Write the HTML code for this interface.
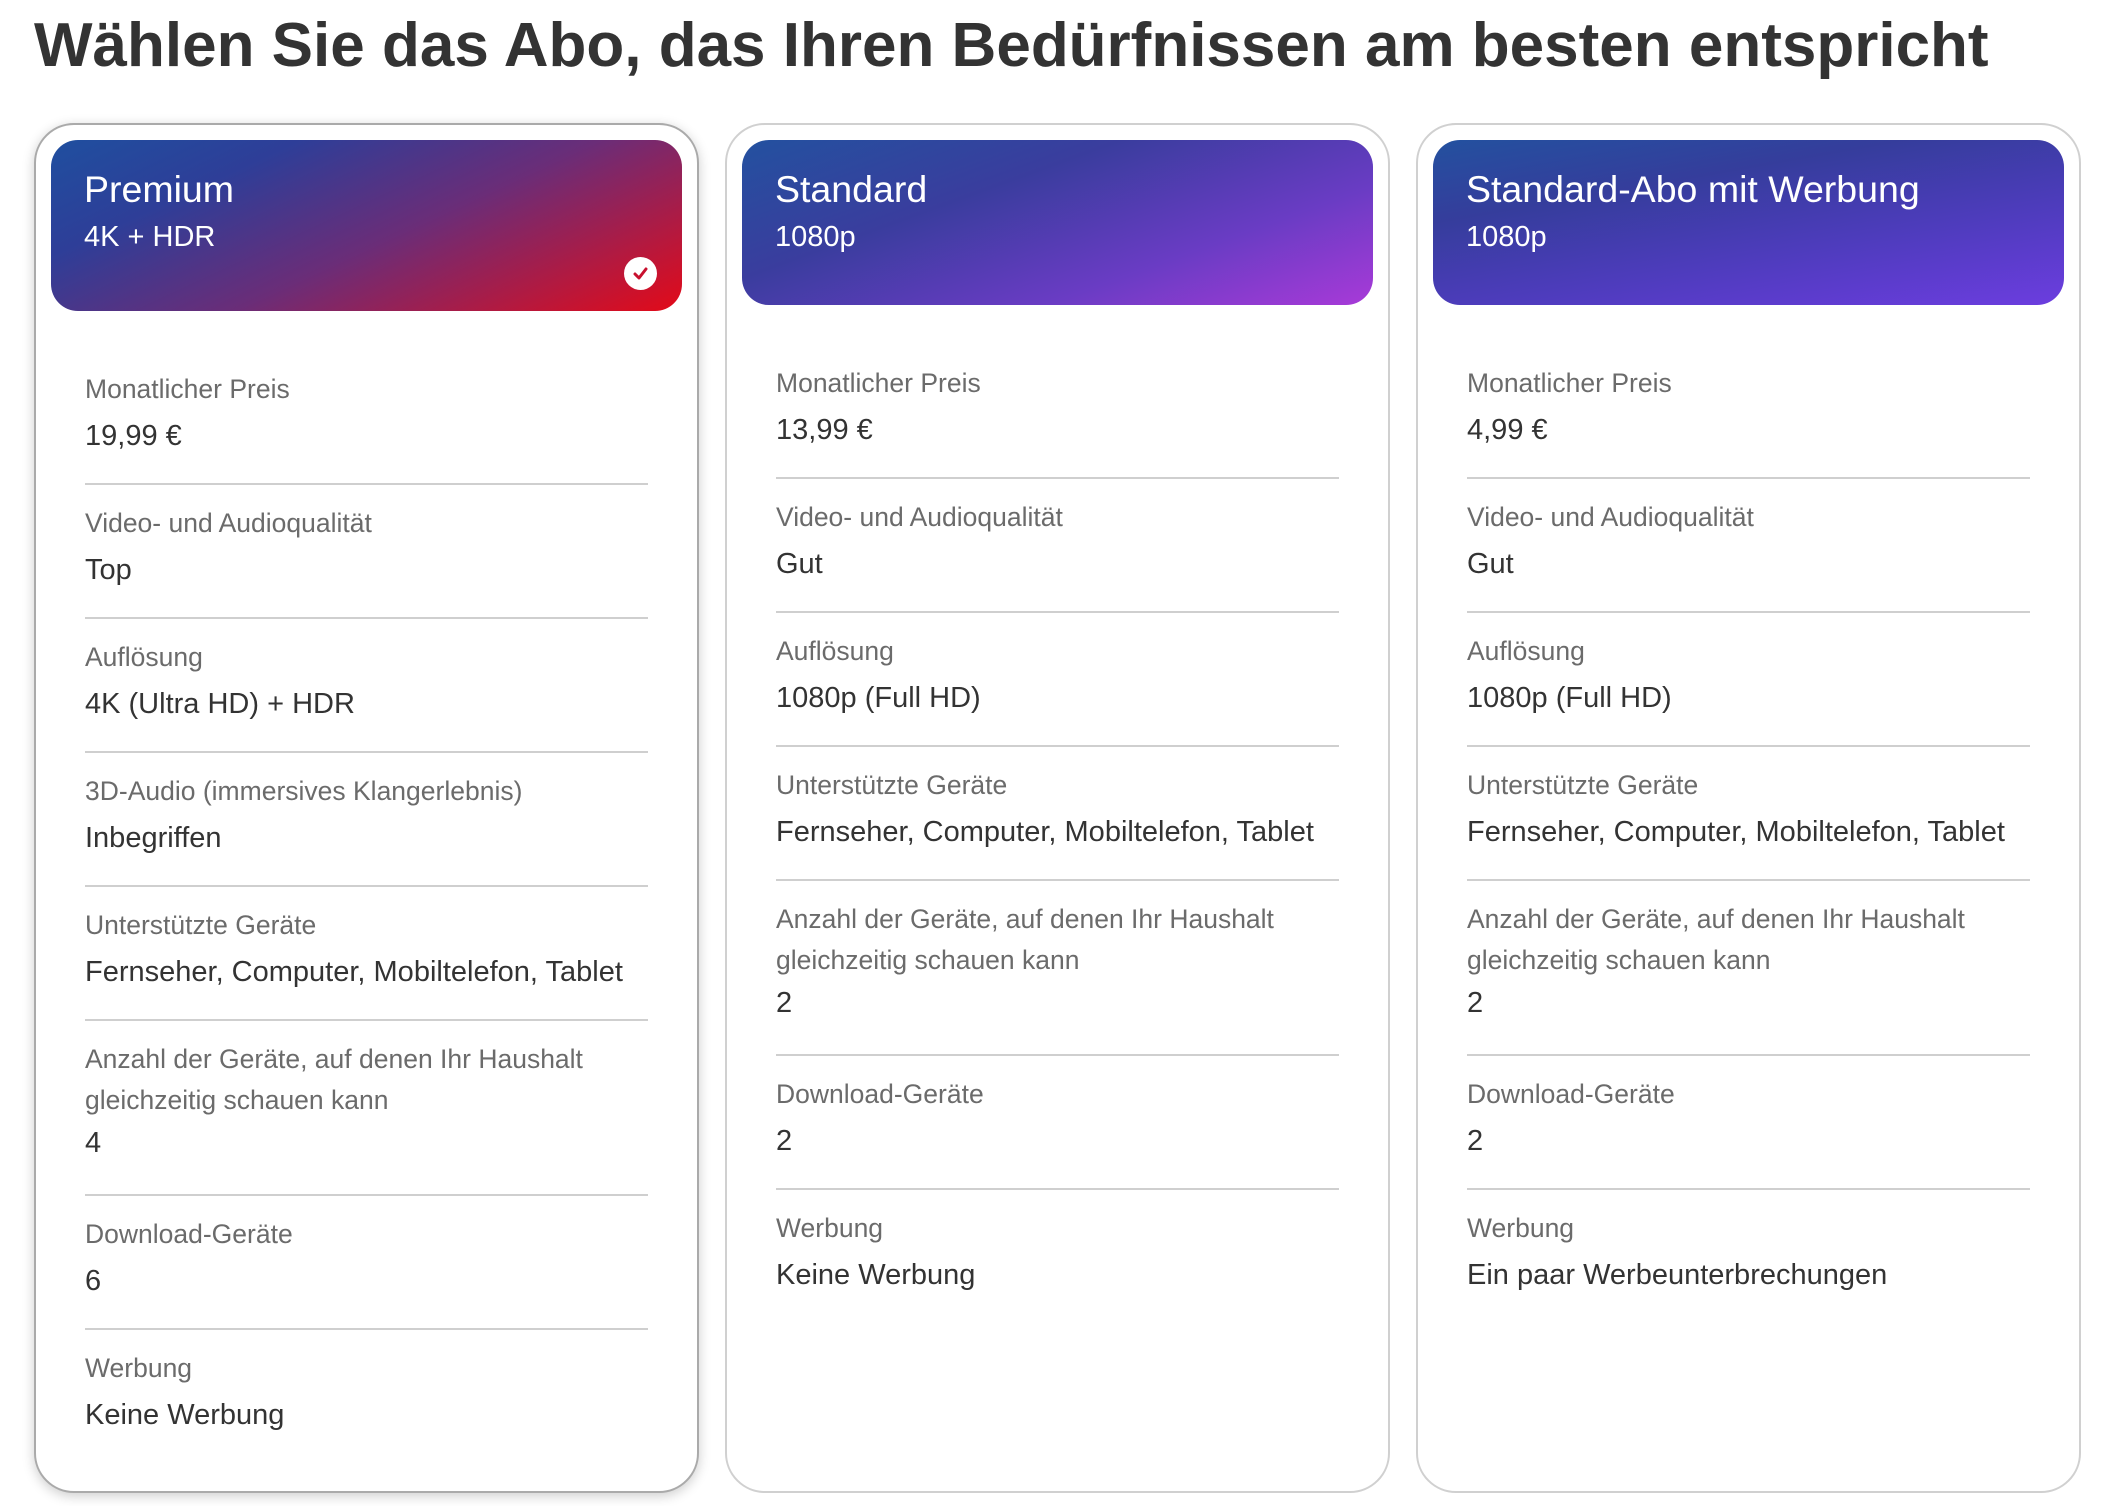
<!DOCTYPE html>
<html><head><meta charset="utf-8">
<style>
*{margin:0;padding:0;box-sizing:border-box}
html,body{width:2120px;height:1506px;overflow:hidden;background:#fff;font-family:"Liberation Sans",Arial,sans-serif}
h1{position:absolute;left:34px;top:6px;font-size:62px;font-weight:700;color:#333;white-space:nowrap;line-height:80px}
.card{position:absolute;top:123px;width:665px;height:1370px;border:2px solid #d0d0d0;border-radius:40px;background:#fff}
.card.sel{border-color:#aaa;box-shadow:0 3px 12px rgba(0,0,0,0.2)}
.hd{position:absolute;left:15px;right:15px;top:15px;height:165px;border-radius:27px;color:#fff}
.hd .t{position:absolute;left:33px;top:29px;font-size:37.5px;line-height:40px}
.hd .s{position:absolute;left:33px;top:81px;font-size:29px;line-height:32px}
.chk{position:absolute;top:117px;width:33px;height:33px;border-radius:50%;background:#fff}
.rows{position:absolute;left:49px;width:563px;top:220px}
.row{padding:18px 0 21px;border-bottom:2px solid #cfcfcf}
.row:last-child{border-bottom:none}
.l{font-size:26.5px;line-height:41px;color:#6b6b6b}
.v{font-size:29px;line-height:52px;color:#333}
</style></head><body>
<h1>Wählen Sie das Abo, das Ihren Bedürfnissen am besten entspricht</h1>

<div class="card sel" style="left:34px">
 <div class="hd" style="height:171px;background:linear-gradient(155deg,#1f4f9f 0%,#2e3e98 25%,#6a2d78 55%,#b4193f 82%,#e30a18 100%)">
  <div class="t">Premium</div><div class="s">4K + HDR</div>
  <div class="chk" style="left:573px"><svg width="33" height="33" viewBox="0 0 33 33"><path d="M11 17 l4 4 l7 -9" stroke="#c8102e" stroke-width="3" fill="none" stroke-linecap="round" stroke-linejoin="round"/></svg></div>
 </div>
 <div class="rows" style="top:226px">
  <div class="row"><div class="l">Monatlicher Preis</div><div class="v">19,99 €</div></div>
  <div class="row"><div class="l">Video- und Audioqualität</div><div class="v">Top</div></div>
  <div class="row"><div class="l">Auflösung</div><div class="v">4K (Ultra HD) + HDR</div></div>
  <div class="row"><div class="l">3D-Audio (immersives Klangerlebnis)</div><div class="v">Inbegriffen</div></div>
  <div class="row"><div class="l">Unterstützte Geräte</div><div class="v">Fernseher, Computer, Mobiltelefon, Tablet</div></div>
  <div class="row"><div class="l">Anzahl der Geräte, auf denen Ihr Haushalt gleichzeitig schauen kann</div><div class="v" style="line-height:44px;margin-bottom:8px">4</div></div>
  <div class="row"><div class="l">Download-Geräte</div><div class="v">6</div></div>
  <div class="row"><div class="l">Werbung</div><div class="v">Keine Werbung</div></div>
 </div>
</div>

<div class="card" style="left:725px">
 <div class="hd" style="background:linear-gradient(160deg,#23519f 0%,#3a3d9e 35%,#6a3cc4 70%,#a83ad8 100%)">
  <div class="t">Standard</div><div class="s">1080p</div>
 </div>
 <div class="rows">
  <div class="row"><div class="l">Monatlicher Preis</div><div class="v">13,99 €</div></div>
  <div class="row"><div class="l">Video- und Audioqualität</div><div class="v">Gut</div></div>
  <div class="row"><div class="l">Auflösung</div><div class="v">1080p (Full HD)</div></div>
  <div class="row"><div class="l">Unterstützte Geräte</div><div class="v">Fernseher, Computer, Mobiltelefon, Tablet</div></div>
  <div class="row"><div class="l">Anzahl der Geräte, auf denen Ihr Haushalt gleichzeitig schauen kann</div><div class="v" style="line-height:44px;margin-bottom:8px">2</div></div>
  <div class="row"><div class="l">Download-Geräte</div><div class="v">2</div></div>
  <div class="row"><div class="l">Werbung</div><div class="v">Keine Werbung</div></div>
 </div>
</div>

<div class="card" style="left:1416px">
 <div class="hd" style="background:linear-gradient(170deg,#23519f 0%,#353d9c 30%,#4f3cbe 65%,#6c3ddf 100%)">
  <div class="t">Standard-Abo mit Werbung</div><div class="s">1080p</div>
 </div>
 <div class="rows">
  <div class="row"><div class="l">Monatlicher Preis</div><div class="v">4,99 €</div></div>
  <div class="row"><div class="l">Video- und Audioqualität</div><div class="v">Gut</div></div>
  <div class="row"><div class="l">Auflösung</div><div class="v">1080p (Full HD)</div></div>
  <div class="row"><div class="l">Unterstützte Geräte</div><div class="v">Fernseher, Computer, Mobiltelefon, Tablet</div></div>
  <div class="row"><div class="l">Anzahl der Geräte, auf denen Ihr Haushalt gleichzeitig schauen kann</div><div class="v" style="line-height:44px;margin-bottom:8px">2</div></div>
  <div class="row"><div class="l">Download-Geräte</div><div class="v">2</div></div>
  <div class="row"><div class="l">Werbung</div><div class="v">Ein paar Werbeunterbrechungen</div></div>
 </div>
</div>
</body></html>
